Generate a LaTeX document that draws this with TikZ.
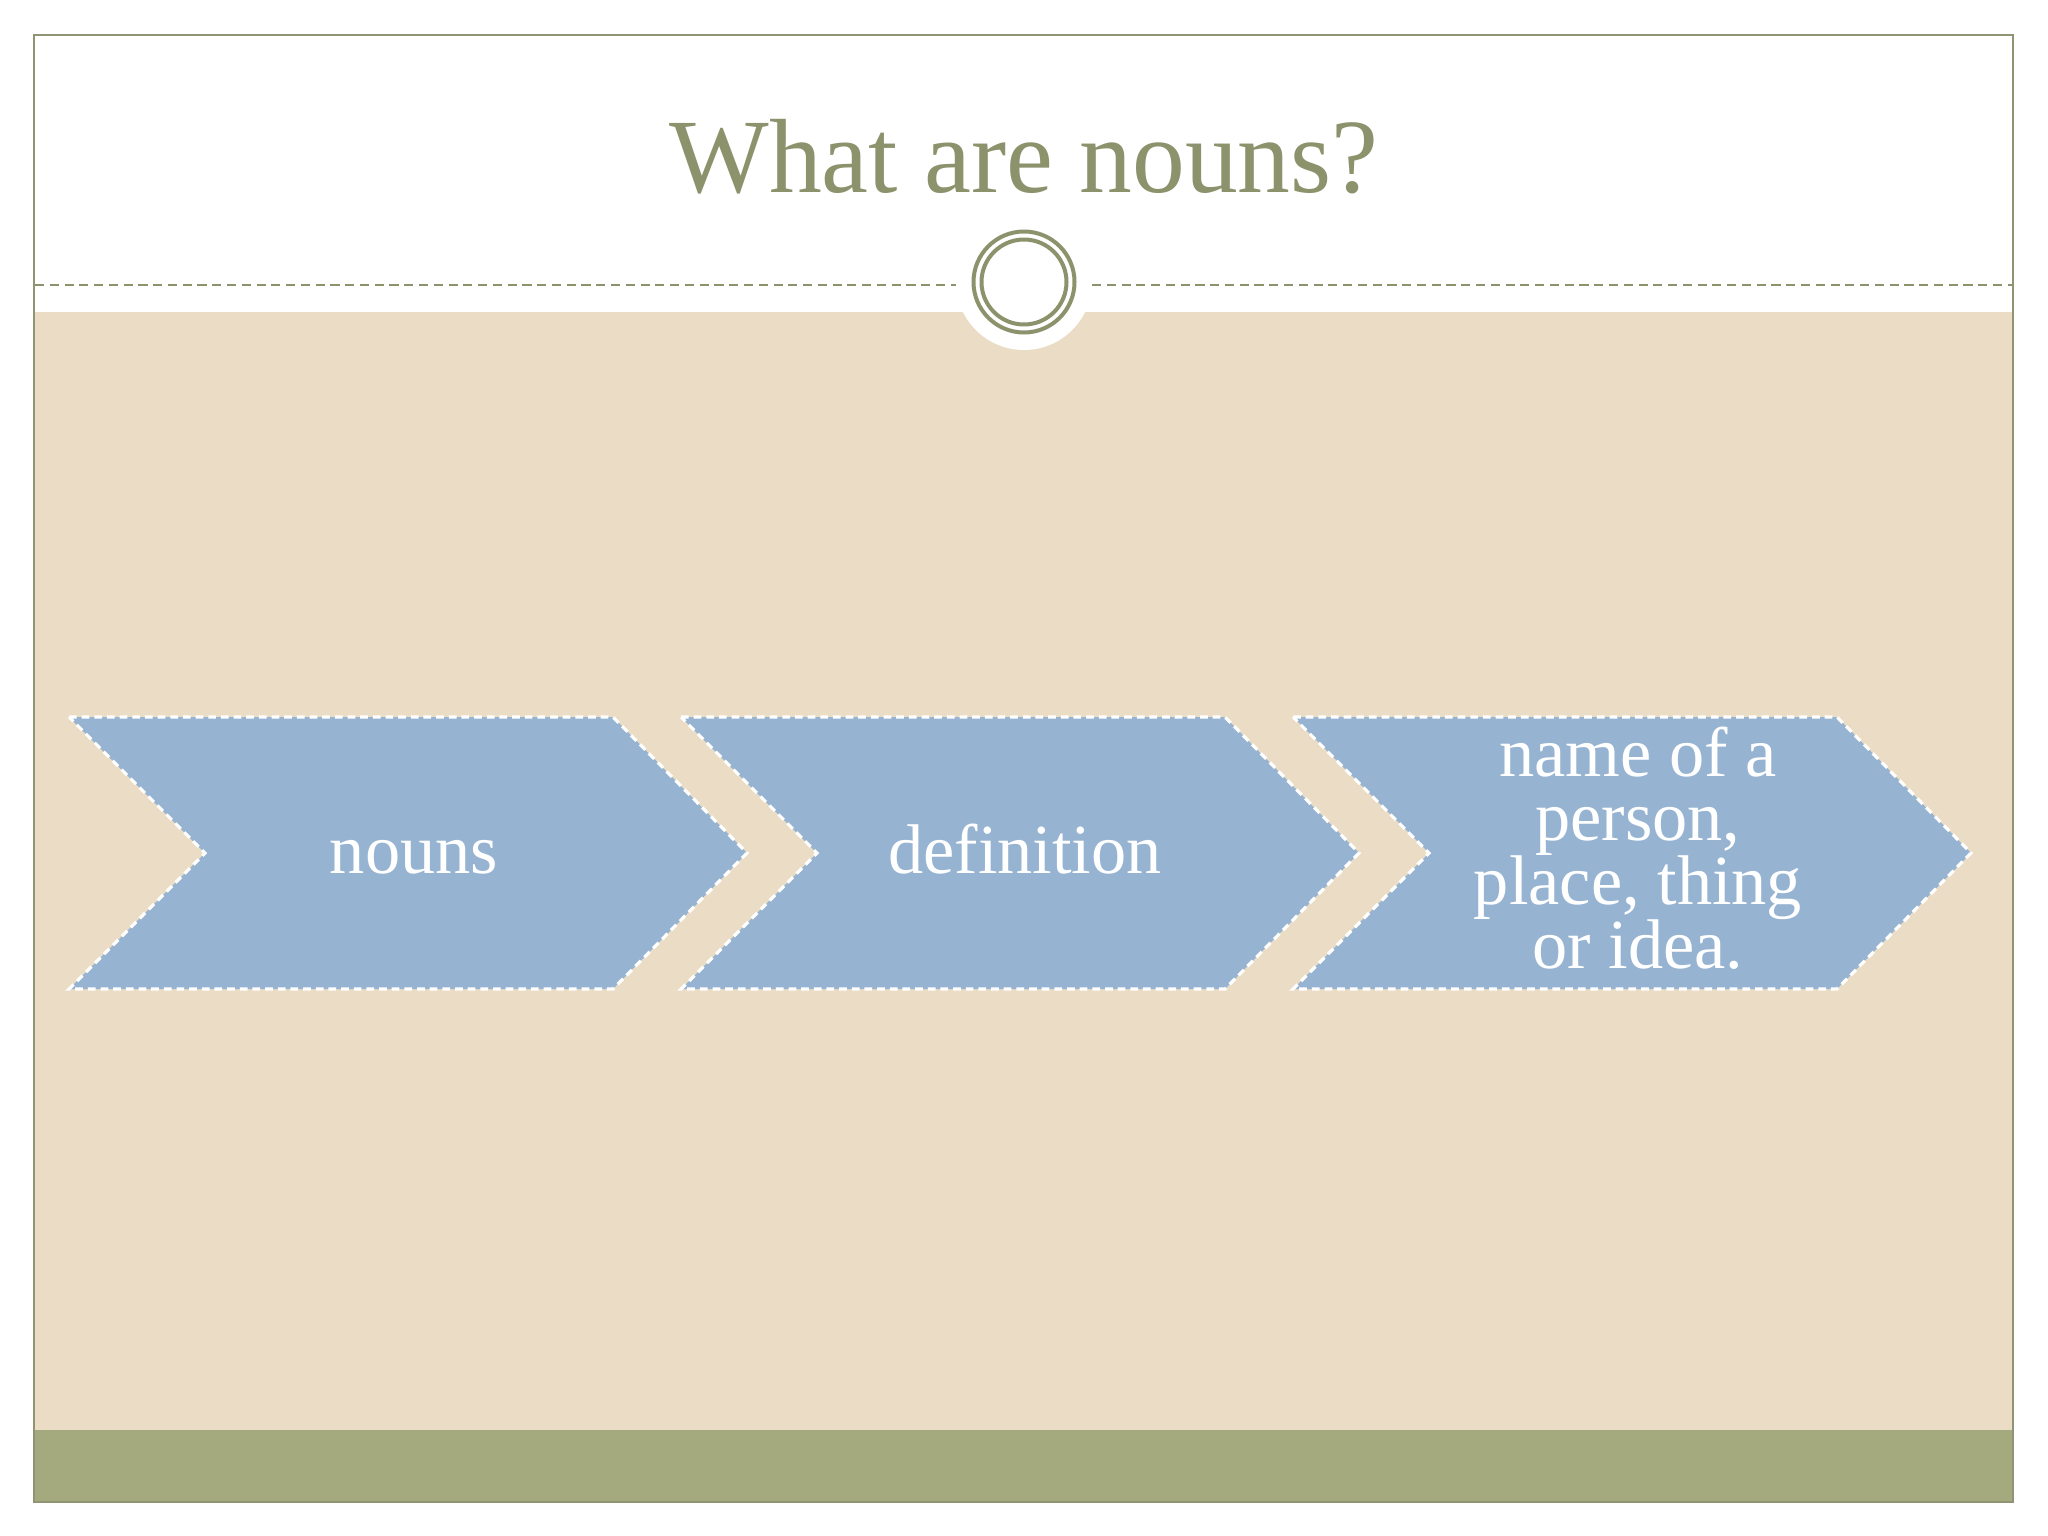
\documentclass[tikz,border=0pt]{standalone}
\usepackage{fontspec}
\setmainfont{Liberation Serif}
\definecolor{olive}{HTML}{8C926C}
\definecolor{frameline}{HTML}{8F9573}
\definecolor{beige}{HTML}{EBDDC5}
\definecolor{barolive}{HTML}{A4AA7E}
\definecolor{chev}{HTML}{96B4D2}
\tikzset{
  chevron/.style={fill=chev, draw=white, line width=0.9pt, dash pattern=on 2.2pt off 1.4pt},
  chevtext/.style={text=white, font=\fontsize{20}{18.2}\selectfont\setlength{\lineskiplimit}{-30pt}, align=center},
  ring/.style={draw=olive, line width=0.04cm},
}
\begin{document}
\begin{tikzpicture}[x=0.01cm, y=-0.01cm]
\useasboundingbox (0,0) rectangle (2048,1536);
\fill[white] (0,0) rectangle (2048,1536);
% beige body
\fill[beige] (35,312) rectangle (2012,1430);
% bottom bar
\fill[barolive] (35,1430) rectangle (2012,1502);
% frame
\draw[frameline, line width=0.6pt] (34,35) rectangle (2013,1502);
% dashed rule
\coordinate (rl1) at (35,285);
\coordinate (rl2) at (956,285);
\coordinate (rr1) at (1092,285);
\coordinate (rr2) at (2012,285);
\draw[olive, line width=0.6pt, dash pattern=on 2.6pt off 1.6pt] (rl1) -- (rl2);
\draw[olive, line width=0.6pt, dash pattern=on 2.6pt off 1.6pt] (rr1) -- (rr2);
% circle ornament
\fill[white] (1024,282) circle[radius=68];
\draw[ring] (1024,282) circle[radius=50.5];
\draw[ring] (1024,282) circle[radius=42.5];
% title
\node[anchor=base, text=olive, font=\fontsize{30}{34}\selectfont, inner sep=0pt] (title) at (1024,192) {What are nouns?};
% chevrons
\foreach \s in {69,681,1293} {
  \draw[chevron] (\s,717) -- (\s+544,717) -- (\s+678,853) -- (\s+544,989) -- (\s,989) -- (\s+136,853) -- cycle;
}
\node[chevtext, anchor=base, inner sep=0pt] (c1) at (414,873) {nouns};
\node[chevtext, anchor=base, inner sep=0pt] (c2) at (1025,873) {definition};
\node[chevtext] (c3) at (1638,848) {name of a\\person,\\place, thing\\or idea.};
\end{tikzpicture}
\end{document}
